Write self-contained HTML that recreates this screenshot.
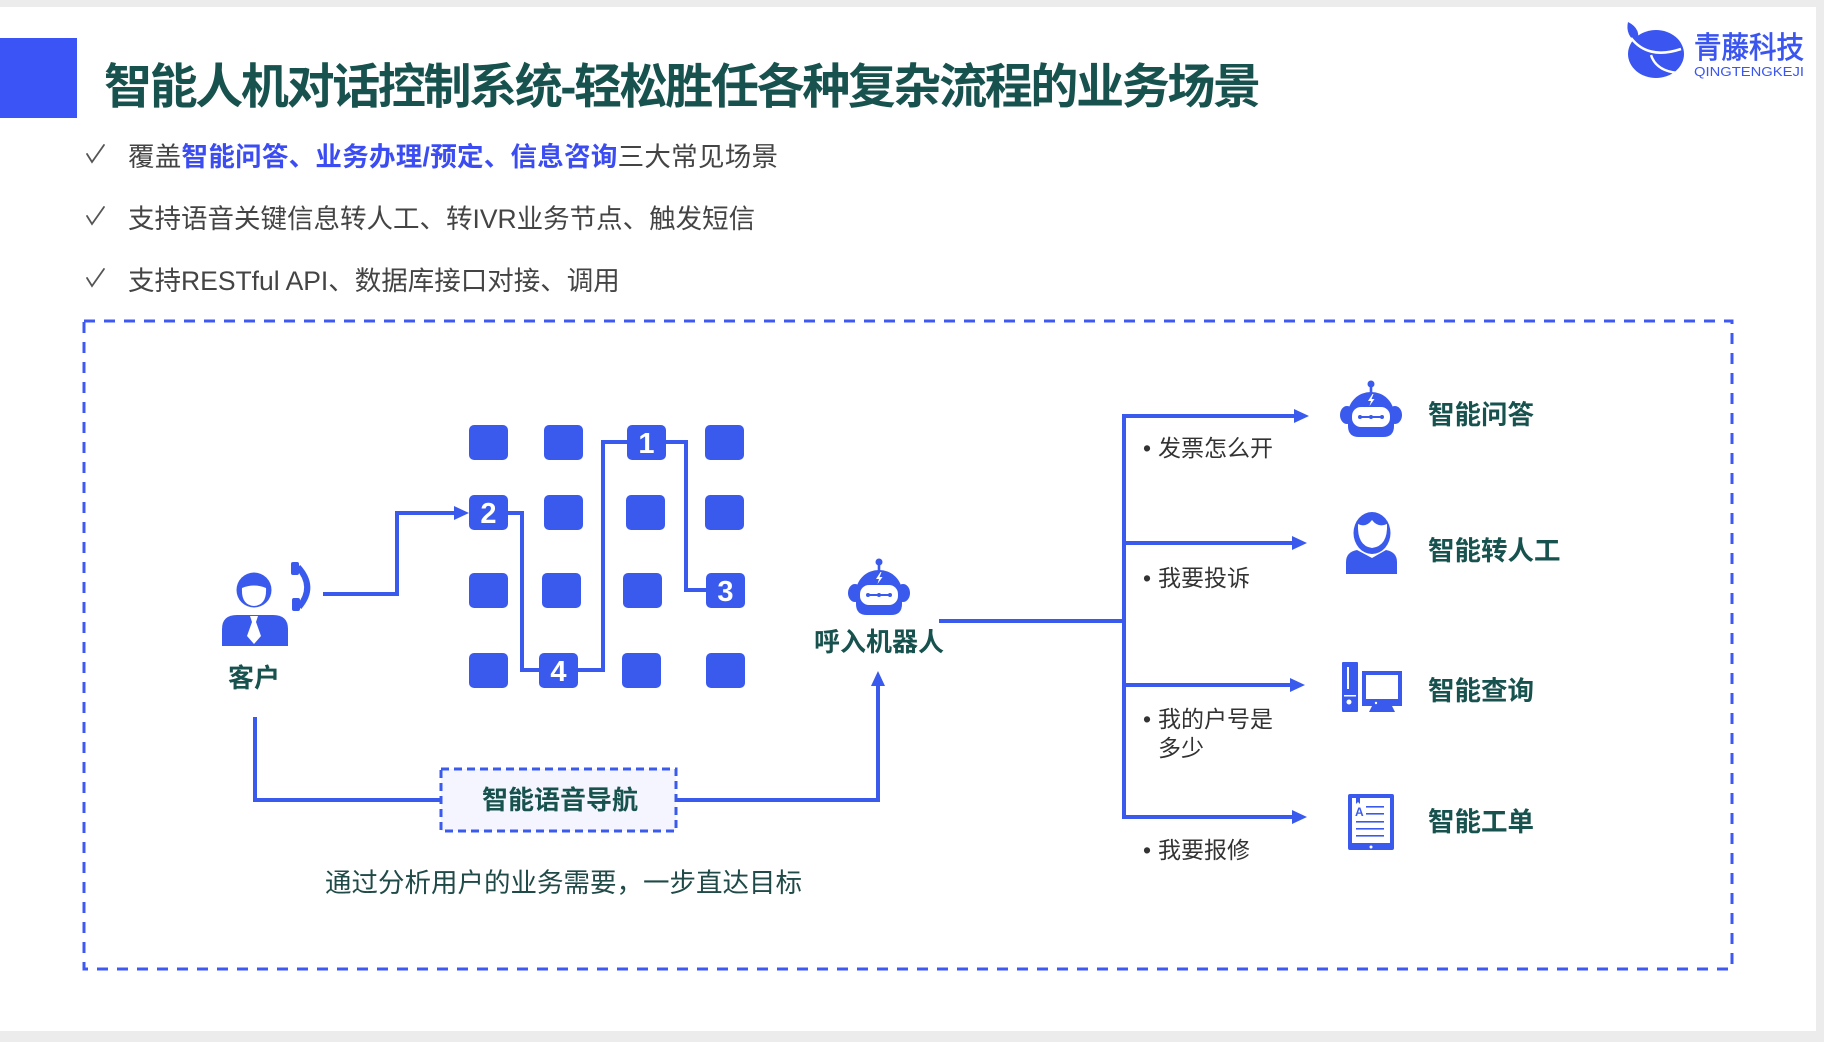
<!DOCTYPE html>
<html><head><meta charset="utf-8"><style>
html,body{margin:0;padding:0;background:#ececec;}
svg{display:block;}
text{font-family:"Liberation Sans","Noto Sans CJK SC",sans-serif;}
</style></head><body>
<svg width="1824" height="1042" viewBox="0 0 1824 1042" xmlns="http://www.w3.org/2000/svg">
<rect x="0" y="0" width="1824" height="1042" fill="#ececec"/>
<rect x="0" y="7" width="1816" height="1024" fill="#ffffff"/>

<!-- header -->
<rect x="0" y="38" width="77" height="80" fill="#3a54f5"/>
<text x="104" y="103" font-size="48" font-weight="bold" fill="#17524e" textLength="1157" lengthAdjust="spacing">智能人机对话控制系统-轻松胜任各种复杂流程的业务场景</text>

<!-- logo -->
<ellipse cx="1656" cy="54" rx="28" ry="24" fill="#3a55f0"/>
<path d="M1628,22 Q1642,29 1637,43 Q1625,35 1628,22 Z" fill="#3a55f0"/>
<path d="M1631,38 Q1648,60 1681,49" stroke="#fff" stroke-width="2.6" fill="none"/>
<path d="M1651,55 Q1656,71 1678,73" stroke="#fff" stroke-width="2.4" fill="none"/>
<text x="1694" y="58" font-size="30" fill="#3a55f0" stroke="#3a55f0" stroke-width="0.7" textLength="110" lengthAdjust="spacingAndGlyphs">青藤科技</text>
<text x="1694" y="76" font-size="13" fill="#3a55f0" textLength="110" lengthAdjust="spacingAndGlyphs">QINGTENGKEJI</text>

<!-- bullets -->
<g stroke="#555" stroke-width="1.8" fill="none" stroke-linecap="round">
<path d="M87,154 L92,162 L104,145"/>
<path d="M87,216 L92,224 L104,207"/>
<path d="M87,278 L92,286 L104,269"/>
</g>
<text x="128" y="166" font-size="26.5" fill="#444" textLength="650" lengthAdjust="spacing">覆盖<tspan fill="#3a4cf2" font-weight="bold">智能问答、业务办理/预定、信息咨询</tspan>三大常见场景</text>
<text x="128" y="228" font-size="26.5" fill="#444">支持语音关键信息转人工、转IVR业务节点、触发短信</text>
<text x="128" y="290" font-size="26.5" fill="#444">支持RESTful API、数据库接口对接、调用</text>

<!-- outer dashed box -->
<rect x="84" y="321" width="1648" height="648" fill="none" stroke="#3d58f5" stroke-width="3" stroke-dasharray="11 9"/>

<!-- grid squares -->
<g fill="#3a5aed">
<rect x="469" y="425" width="39" height="35" rx="5"/>
<rect x="544" y="425" width="39" height="35" rx="5"/>
<rect x="627" y="425" width="39" height="35" rx="5"/>
<rect x="705" y="425" width="39" height="35" rx="5"/>
<rect x="469" y="495" width="39" height="35" rx="5"/>
<rect x="544" y="495" width="39" height="35" rx="5"/>
<rect x="626" y="495" width="39" height="35" rx="5"/>
<rect x="705" y="495" width="39" height="35" rx="5"/>
<rect x="469" y="573" width="39" height="35" rx="5"/>
<rect x="542" y="573" width="39" height="35" rx="5"/>
<rect x="623" y="573" width="39" height="35" rx="5"/>
<rect x="706" y="573" width="39" height="35" rx="5"/>
<rect x="469" y="653" width="39" height="35" rx="5"/>
<rect x="539" y="653" width="39" height="35" rx="5"/>
<rect x="622" y="653" width="39" height="35" rx="5"/>
<rect x="706" y="653" width="39" height="35" rx="5"/>
</g>
<g font-size="29" font-weight="bold" fill="#fff" text-anchor="middle">
<text x="646.5" y="453">1</text>
<text x="488.5" y="523">2</text>
<text x="725.5" y="601">3</text>
<text x="558.5" y="681">4</text>
</g>

<!-- connectors -->
<g stroke="#3a5aed" stroke-width="4" fill="none">
<path d="M323,594 H397 V513 H456"/>
<path d="M508,513 H522 V670 H539"/>
<path d="M578,670 H603 V442 H627"/>
<path d="M666,442 H686 V590 H706"/>
<path d="M255,717 V800 H441"/>
<path d="M676,800 H878 V684"/>
<path d="M939,621 H1124"/>
<path d="M1124,414 V819"/>
<path d="M1124,416 H1296"/>
<path d="M1124,543 H1294"/>
<path d="M1124,685 H1292"/>
<path d="M1124,817 H1294"/>
</g>
<g fill="#3a5aed">
<polygon points="454,506 469,513 454,520"/>
<polygon points="871,686 878,671 885,686"/>
<polygon points="1294,409 1309,416 1294,423"/>
<polygon points="1292,536 1307,543 1292,550"/>
<polygon points="1290,678 1305,685 1290,692"/>
<polygon points="1292,810 1307,817 1292,824"/>
</g>

<!-- customer -->
<circle cx="254" cy="590" r="17.5" fill="#3a5aed"/>
<path d="M242,588 Q254,583 266,588 Q267,605 254,606 Q241,605 242,588 Z" fill="#fff"/>
<path d="M222,646 V629 Q222,615 237,615 H273 Q288,615 288,629 V646 Z" fill="#3a5aed"/>
<polygon points="250,616 258,616 256,622 261,636 254,644 247,636 252,622" fill="#fff"/>
<path d="M298,567 Q316,587 299,607" stroke="#3a5aed" stroke-width="6" fill="none"/>
<rect x="291" y="562" width="8" height="13" rx="2" fill="#3a5aed"/>
<rect x="292" y="598" width="8" height="13" rx="2" fill="#3a5aed"/>
<text x="254" y="687" font-size="26" font-weight="bold" fill="#17524e" text-anchor="middle">客户</text>

<!-- nav box -->
<rect x="441" y="769" width="235" height="62" fill="#f4f5fe" stroke="#3a5aed" stroke-width="3" stroke-dasharray="8 5"/>
<text x="560" y="809" font-size="26" font-weight="bold" fill="#17524e" text-anchor="middle">智能语音导航</text>
<text x="325" y="892" font-size="26.5" fill="#1f4a47">通过分析用户的业务需要，一步直达目标</text>

<!-- center robot -->
<g transform="translate(879,558)" fill="#3a5aed">
<circle cx="0" cy="4" r="3.5"/>
<rect x="-1.3" y="4" width="2.6" height="9"/>
<ellipse cx="-24" cy="35" rx="7" ry="9"/>
<ellipse cx="24" cy="35" rx="7" ry="9"/>
<path d="M-23,34 A23,22 0 0 1 23,34 V46 Q23,57 12,57 H-12 Q-23,57 -23,46 Z"/>
<rect x="-19" y="27" width="38" height="20" rx="9" fill="#fff"/>
<line x1="-11" y1="37" x2="11" y2="37" stroke="#3a5aed" stroke-width="2"/>
<circle cx="-11" cy="37" r="2"/><circle cx="0" cy="37" r="2"/><circle cx="11" cy="37" r="2"/>
<polygon points="1.5,14 -3,21 0,21 -1.5,26 3.5,19 0.5,19 2.5,14" fill="#fff"/>
</g>
<text x="879" y="651" font-size="26" font-weight="bold" fill="#17524e" text-anchor="middle">呼入机器人</text>

<!-- bullet labels -->
<g font-size="23" fill="#333">
<text x="1143" y="456">•</text><text x="1158" y="456">发票怎么开</text>
<text x="1143" y="586">•</text><text x="1158" y="586">我要投诉</text>
<text x="1143" y="727">•</text><text x="1158" y="727">我的户号是</text>
<text x="1158" y="756">多少</text>
<text x="1143" y="858">•</text><text x="1158" y="858">我要报修</text>
</g>

<!-- small robot -->
<g transform="translate(1371,380)" fill="#3a5aed">
<circle cx="0" cy="4" r="3.5"/>
<rect x="-1.3" y="4" width="2.6" height="9"/>
<ellipse cx="-24" cy="35" rx="7" ry="9"/>
<ellipse cx="24" cy="35" rx="7" ry="9"/>
<path d="M-23,34 A23,22 0 0 1 23,34 V46 Q23,57 12,57 H-12 Q-23,57 -23,46 Z"/>
<rect x="-19" y="27" width="38" height="20" rx="9" fill="#fff"/>
<line x1="-11" y1="37" x2="11" y2="37" stroke="#3a5aed" stroke-width="2"/>
<circle cx="-11" cy="37" r="2"/><circle cx="0" cy="37" r="2"/><circle cx="11" cy="37" r="2"/>
<polygon points="1.5,14 -3,21 0,21 -1.5,26 3.5,19 0.5,19 2.5,14" fill="#fff"/>
</g>

<!-- woman icon -->
<ellipse cx="1372" cy="533" rx="18.5" ry="21" fill="#3a5aed"/>
<path d="M1358,524 Q1366,528 1372,520 Q1378,528 1387,524 Q1388,546 1372,548 Q1357,546 1358,524 Z" fill="#fff"/>
<path d="M1346,574 V562 Q1346,552 1357,550 L1372,558 L1386,550 Q1397,552 1397,562 V574 Z" fill="#3a5aed"/>

<!-- computer icon -->
<rect x="1342" y="662" width="16" height="50" rx="1" fill="#3a5aed"/>
<rect x="1347" y="667" width="2" height="22" fill="#fff"/>
<rect x="1344" y="695" width="12" height="1.5" fill="#fff"/>
<circle cx="1349" cy="702" r="2.5" fill="#fff"/>
<rect x="1362" y="671" width="40" height="35" fill="#3a5aed"/>
<rect x="1366" y="675" width="32" height="24" fill="#fff"/>
<circle cx="1376" cy="703" r="1.2" fill="#fff"/>
<polygon points="1372,706 1392,706 1395,712 1369,712" fill="#3a5aed"/>

<!-- document icon -->
<rect x="1348" y="794" width="46" height="56" rx="2" fill="#3a5aed"/>
<rect x="1352" y="798" width="38" height="45" fill="#fff"/>
<circle cx="1371" cy="847" r="1.5" fill="#fff"/>
<polygon points="1356,798 1360,798 1360,804 1358,802 1356,804" fill="#3a5aed"/>
<text x="1355" y="816" font-size="12" font-weight="bold" fill="#3a5aed">A</text>
<g fill="#3a5aed">
<rect x="1366" y="806" width="18" height="1.6"/>
<rect x="1366" y="813" width="18" height="1.6"/>
<rect x="1356" y="821" width="28" height="1.6"/>
<rect x="1356" y="828" width="28" height="1.6"/>
<rect x="1356" y="835" width="28" height="1.6"/>
</g>

<!-- right labels -->
<g font-size="26.5" font-weight="bold" fill="#17524e">
<text x="1428" y="424">智能问答</text>
<text x="1428" y="560">智能转人工</text>
<text x="1428" y="700">智能查询</text>
<text x="1428" y="831">智能工单</text>
</g>
</svg>
</body></html>
